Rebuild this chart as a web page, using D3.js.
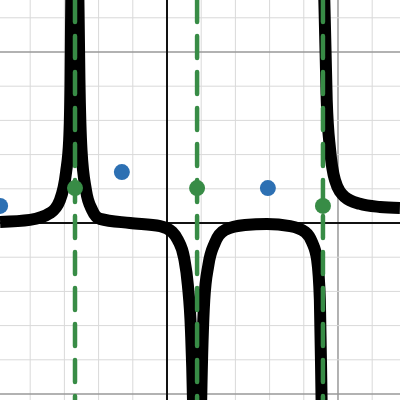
<!DOCTYPE html>
<html>
<head>
<meta charset="utf-8">
<script src="https://cdn.jsdelivr.net/npm/d3@7"></script>
<style>body{margin:0;background:#fff}svg{display:block}</style>
</head>
<body>
<div id="chart"></div>
<script>
// curve branches (data units)
const branch1 = [[-4.88,0.03],[-4.01,0.09],[-3.42,0.29],[-3.13,0.67],[-2.95,1.49],[-2.86,2.43],[-2.82,4.18],[-2.8,6.52],[-2.79,7.1]];
const branch2 = [[-2.6,7.1],[-2.59,6.52],[-2.56,4.18],[-2.5,2.13],[-2.37,0.96],[-2.19,0.38],[-1.96,0.12],[-1.08,0],[-0.2,-0.09],[0.15,-0.26],[0.32,-0.5],[0.5,-1.02],[0.61,-1.81],[0.7,-3.13],[0.76,-5.18],[0.77,-5.76]];
const branch3 = [[0.99,-5.76],[1.0,-5.18],[1.09,-2.25],[1.21,-1.23],[1.4,-0.58],[1.7,-0.2],[2.28,-0.06],[2.92,-0.03],[3.6,-0.09],[4.04,-0.26],[4.24,-0.56],[4.39,-1.08],[4.47,-2.25],[4.52,-5.18],[4.53,-5.76]];
const branch4 = [[4.59,7.1],[4.6,6.52],[4.67,3.6],[4.77,2.13],[4.91,1.26],[5.2,0.76],[5.64,0.56],[6.23,0.47],[6.81,0.44]];
const asymptotes = [-2.69, 0.88, 4.56];
const greenPoints = [[-2.69,1.02],[0.88,1.02],[4.56,0.5]];
const bluePoints = [[-4.88,0.5],[-1.32,1.49],[2.95,1.02]];

const width = 400, height = 400;
const x = d3.scaleLinear().domain([-4.883, 6.813]).range([0, width]);
const y = d3.scaleLinear().domain([-5.175, 6.52]).range([height, 0]);

const svg = d3.select("#chart").append("svg")
    .attr("width", width)
    .attr("height", height);

// grid
const xt = d3.range(-4, 7), yt = d3.range(-5, 7);
svg.selectAll(".gx").data(xt).enter().append("line")
    .attr("x1", d => x(d)).attr("x2", d => x(d))
    .attr("y1", 0).attr("y2", height)
    .style("stroke", d => d % 5 === 0 ? "#999" : "#d9d9d9")
    .style("stroke-width", d => d % 5 === 0 ? 1.5 : 1);
svg.selectAll(".gy").data(yt).enter().append("line")
    .attr("y1", d => y(d)).attr("y2", d => y(d))
    .attr("x1", 0).attr("x2", width)
    .style("stroke", d => d % 5 === 0 ? "#999" : "#d9d9d9")
    .style("stroke-width", d => d % 5 === 0 ? 1.5 : 1);

// axes
svg.append("line").attr("x1", x(0)).attr("x2", x(0)).attr("y1", 0).attr("y2", height)
    .style("stroke", "#111").style("stroke-width", 2);
svg.append("line").attr("y1", y(0)).attr("y2", y(0)).attr("x1", 0).attr("x2", width)
    .style("stroke", "#111").style("stroke-width", 2);

// curve
const line = d3.line().x(d => x(d[0])).y(d => y(d[1])).curve(d3.curveMonotoneX);
svg.selectAll(".branch").data([branch1, branch2, branch3, branch4]).enter().append("path")
    .attr("d", line)
    .style("fill", "none").style("stroke", "#000").style("stroke-width", 12);

// asymptotes
svg.selectAll(".asym").data(asymptotes).enter().append("line")
    .attr("x1", d => x(d)).attr("x2", d => x(d))
    .attr("y1", 0).attr("y2", height)
    .style("stroke", "#388c46").style("stroke-width", 4.5)
    .style("stroke-linecap", "round")
    .style("stroke-dasharray", "22,14");

svg.selectAll(".gp").data(greenPoints).enter().append("circle")
    .attr("cx", d => x(d[0])).attr("cy", d => y(d[1])).attr("r", 8)
    .style("fill", "#388c46");

svg.selectAll(".bp").data(bluePoints).enter().append("circle")
    .attr("cx", d => x(d[0])).attr("cy", d => y(d[1])).attr("r", 8)
    .style("fill", "#2d70b3");
</script>
</body>
</html>
